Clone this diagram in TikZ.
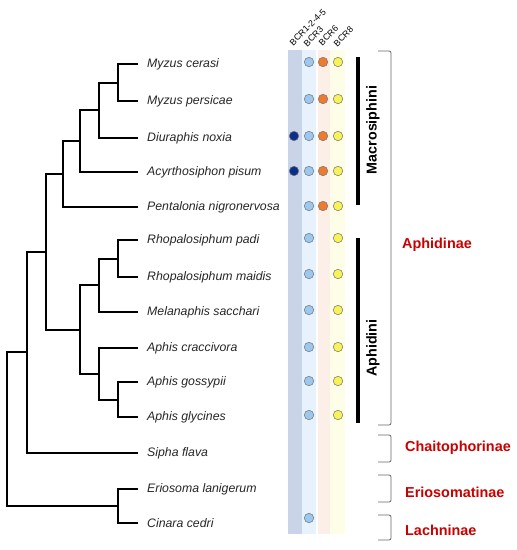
\documentclass[tikz,border=0pt]{standalone}
\usepackage{fontspec}
\setmainfont{Liberation Sans}
\begin{document}
\begin{tikzpicture}[x=1pt,y=-1pt,
  branch/.style={line width=2pt,black},
  leaflbl/.style={anchor=west,font=\fontsize{12.3}{13}\selectfont\itshape,text=black!85,inner sep=0pt},
  hdr/.style={anchor=west,rotate=45,font=\fontsize{8.8}{9}\selectfont,inner sep=0pt},
  dotc/.style={circle,minimum size=9.5pt,inner sep=0pt,draw=black!55,line width=0.5pt},
  d1/.style={dotc,fill=dkblue},
  d3/.style={dotc,fill=ltblue},
  d6/.style={dotc,fill=orng},
  d8/.style={dotc,fill=yllw},
  tribe/.style={font=\fontsize{14.3}{15}\selectfont\bfseries,rotate=90,inner sep=0pt},
  subfam/.style={anchor=west,font=\fontsize{14.4}{15}\selectfont\bfseries,text=redlbl,inner sep=0pt},
  brk/.style={draw=black!60,line width=0.8pt,rounded corners=2pt},
  bar/.style={line width=4pt,black}]
\definecolor{dkblue}{HTML}{0B2E8A}
\definecolor{ltblue}{HTML}{9CC8F0}
\definecolor{orng}{HTML}{EE7A2E}
\definecolor{yllw}{HTML}{F8F25A}
\definecolor{col1}{HTML}{C9D4E9}
\definecolor{col2}{HTML}{E8F2FC}
\definecolor{col3}{HTML}{FCEFE7}
\definecolor{col4}{HTML}{FDFDE8}
\definecolor{redlbl}{HTML}{C80000}
\useasboundingbox (0,0) rectangle (517,550);
\fill[white] (0,0) rectangle (517,550);
% columns
\fill[col1] (288,50) rectangle (302,534);
\fill[col2] (302,50) rectangle (316,534);
\fill[col3] (318,50) rectangle (330,534);
\fill[col4] (330,50) rectangle (345,534);
% headers
\node[hdr] (h1) at (291,44) {BCR1-2-4-5};
\node[hdr] (h3) at (305,45) {BCR3};
\node[hdr] (h6) at (320,44) {BCR6};
\node[hdr] (h8) at (335,45) {BCR8};
% leaf ends
\foreach \n/\y in {1/64,2/101,3/138,4/172,5/207,6/240,7/277,8/312,9/348,10/382,11/417,12/453,13/489,14/523}
  \coordinate (L\n) at (138,\y);
% internal nodes
\coordinate (na) at (118,82.5);
\coordinate (nb) at (99,110.25);
\coordinate (nc) at (80,141.1);
\coordinate (nd) at (63,174);
\coordinate (ne) at (118,258.5);
\coordinate (nf) at (99,285.25);
\coordinate (ng) at (118,399.5);
\coordinate (nh) at (99,373.75);
\coordinate (ni) at (80,329.5);
\coordinate (nj) at (46,251.75);
\coordinate (nk) at (27,352.4);
\coordinate (nl) at (118,506);
\coordinate (nr) at (7,429.2);
% branches
\draw[branch] (L1) -| (na) |- (L2);
\draw[branch] (na) -| (nb) |- (L3);
\draw[branch] (nb) -| (nc) |- (L4);
\draw[branch] (nc) -| (nd) |- (L5);
\draw[branch] (L6) -| (ne) |- (L7);
\draw[branch] (ne) -| (nf) |- (L8);
\draw[branch] (L10) -| (ng) |- (L11);
\draw[branch] (L9) -| (nh) |- (ng);
\draw[branch] (nf) -| (ni) |- (nh);
\draw[branch] (nd) -| (nj) |- (ni);
\draw[branch] (nj) -| (nk) |- (L12);
\draw[branch] (L13) -| (nl) |- (L14);
\draw[branch] (nk) -| (nr) |- (nl);
% leaf labels
\node[leaflbl] (s1) at (147,64) {Myzus cerasi};
\node[leaflbl] (s2) at (147,101) {Myzus persicae};
\node[leaflbl] (s3) at (147,138) {Diuraphis noxia};
\node[leaflbl] (s4) at (147,172) {Acyrthosiphon pisum};
\node[leaflbl] (s5) at (147,207) {Pentalonia nigronervosa};
\node[leaflbl] (s6) at (147,240) {Rhopalosiphum padi};
\node[leaflbl] (s7) at (147,277) {Rhopalosiphum maidis};
\node[leaflbl] (s8) at (147,312) {Melanaphis sacchari};
\node[leaflbl] (s9) at (147,348) {Aphis craccivora};
\node[leaflbl] (s10) at (147,382) {Aphis gossypii};
\node[leaflbl] (s11) at (147,417) {Aphis glycines};
\node[leaflbl] (s12) at (147,453) {Sipha flava};
\node[leaflbl] (s13) at (147,489) {Eriosoma lanigerum};
\node[leaflbl] (s14) at (147,523) {Cinara cedri};
% dots
\node[d1] (p3a) at (294,136) {};
\node[d1] (p4a) at (294,171) {};
\foreach \r/\y in {1/62,2/99,3/136,4/171,5/206}{
  \node[d3] (q\r b) at (309,\y) {};
  \node[d6] (q\r c) at (323,\y) {};
  \node[d8] (q\r d) at (338,\y) {};
}
\foreach \r/\y in {6/238,7/274,8/310,9/347,10/381,11/415}{
  \node[d3] (q\r b) at (309,\y) {};
  \node[d8] (q\r d) at (338,\y) {};
}
\node[d3] (q14b) at (309,518) {};
% tribe bars
\draw[bar] (358,57) -- (358,205);
\draw[bar] (358,238) -- (358,423);
\node[tribe] (tm) at (373,130) {Macrosiphini};
\node[tribe] (ta) at (373,348) {Aphidini};
% brackets
\draw[brk] (378,51) -- (391,51) -- (391,425) -- (378,425);
\draw[brk] (378,435) -- (391,435) -- (391,462) -- (378,462);
\draw[brk] (378,475) -- (391,475) -- (391,502) -- (378,502);
\draw[brk] (378,515) -- (391,515) -- (391,540) -- (378,540);
% subfamilies
\node[subfam] (f1) at (402,245) {Aphidinae};
\node[subfam] (f2) at (405,448) {Chaitophorinae};
\node[subfam] (f3) at (405,492) {Eriosomatinae};
\node[subfam] (f4) at (405,530) {Lachninae};
\end{tikzpicture}
\end{document}
